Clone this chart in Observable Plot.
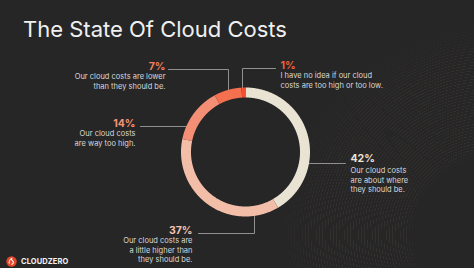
<!DOCTYPE html>
<html>
<head>
<meta charset="utf-8">
<script src="https://cdn.jsdelivr.net/npm/d3@7"></script>
<script src="https://cdn.jsdelivr.net/npm/@observablehq/plot@0.6"></script>
<style>
  html, body { margin: 0; padding: 0; background: #262626; }
  #wrap { position: relative; width: 474px; height: 268px; background: #262626; overflow: hidden; font-family: Inter, "Noto Sans", sans-serif; }
  #bgarcs { position: absolute; left: 0; top: 0; width: 474px; height: 268px;
    background: repeating-radial-gradient(circle at 490px 235px, rgba(0,0,0,0) 0px, rgba(0,0,0,0) 2.2px, rgba(230,170,150,0.07) 2.2px, rgba(230,170,150,0.07) 2.8px);
    -webkit-mask-image: radial-gradient(circle at 490px 235px, rgba(0,0,0,0) 75px, rgba(0,0,0,1) 85px, rgba(0,0,0,1) 170px, rgba(0,0,0,0) 215px);
    mask-image: radial-gradient(circle at 490px 235px, rgba(0,0,0,0) 75px, rgba(0,0,0,1) 85px, rgba(0,0,0,1) 170px, rgba(0,0,0,0) 215px); }
  #title { position: absolute; left: 23px; top: 18px; font-size: 22px; line-height: 22px; color: #f0f0f0; font-weight: 400; white-space: nowrap; }
  #logo { position: absolute; left: 6px; top: 256px; display: flex; align-items: center; gap: 4px; }
  #logo span { font-size: 7.5px; font-weight: 700; color: #f2f2f2; letter-spacing: 0.1px; }
  #chart { position: absolute; left: 0; top: 0; }
</style>
</head>
<body>
<div id="wrap">
  <div id="bgarcs"></div>
  <div id="chart"></div>
  <div id="title">The State Of Cloud Costs</div>
  <div id="logo">
    <svg width="11" height="11" viewBox="0 0 11 11"><circle cx="5.5" cy="5.5" r="5.2" fill="#e5452b"/><path d="M3.4 7.6 C2.6 5.6 4 3.4 5.6 2.6 C5.2 4 6.6 4.4 7.2 5.6 C7.8 7 6.6 8.4 5.4 8.4" fill="none" stroke="#ffffff" stroke-width="1.1"/></svg>
    <span>CLOUDZERO</span>
  </div>
</div>
<script>
// ---- data, clockwise from 12 o'clock ----
const categories = [
  "Our cloud costs are about where they should be.",
  "Our cloud costs are a little higher than they should be.",
  "Our cloud costs are way too high.",
  "Our cloud costs are lower than they should be.",
  "I have no idea if our cloud costs are too high or too low."
];
const shares = [42, 37, 14, 7, 1];
const percentLabels = ["42%", "37%", "14%", "7%", "1%"];
const labelLines = [
  ["Our cloud costs", "are about where", "they should be."],
  ["Our cloud costs are", "a little higher than", "they should be."],
  ["Our cloud costs", "are way too high."],
  ["Our cloud costs are lower", "than they should be."],
  ["I have no idea if our cloud", "costs are too high or too low."]
];

// ---- styles ----
const sliceColors = ["#e9e3d3", "#f3bea8", "#f48f76", "#f5704f", "#f2502e"];
const percentColors = ["#ece5d6", "#f4c4b0", "#f39479", "#f0805f", "#f0603e"];

// ---- layout (pixels relative to the donut centre) ----
const W = 474, H = 268, CX = 245, CY = 151.5;
const R_MID = 59.5, RING = 10;
const leaderLayout = [
  {kind: "h", side: 1,  ly: 11.5,  lx: 100,  tx: 105,  anchor: "start"},
  {kind: "v", side: 1,  ax: 9,     ly: 81.5, lx: -47,  tx: -53, anchor: "end"},
  {kind: "h", side: -1, ly: -25.5, lx: -105, tx: -110, anchor: "end"},
  {kind: "v", side: -1, ax: -17,   ly: -82.5, lx: -77, tx: -80, anchor: "end"},
  {kind: "v", side: -1, ax: -3,    ly: -83.5, lx: 30,  tx: 35,  anchor: "start"}
];
const LINE_STEP = 9.5;

// ring geometry derived from the shares
const arcs = d3.pie().sort(null).value(d => d)(shares);
const ringPts = [];
arcs.forEach((a, i) => {
  const n = Math.max(2, Math.ceil((a.endAngle - a.startAngle) / (Math.PI / 360)));
  for (let j = 0; j <= n; j++) {
    const t = a.startAngle + (a.endAngle - a.startAngle) * j / n;
    ringPts.push({k: i, x: R_MID * Math.sin(t), y: -R_MID * Math.cos(t)});
  }
});

// leader polylines
const leaderPts = [];
leaderLayout.forEach((L, i) => {
  if (L.kind === "h") {
    const x0 = L.side * Math.sqrt(R_MID * R_MID - L.ly * L.ly);
    leaderPts.push({k: i, x: x0, y: L.ly}, {k: i, x: L.lx, y: L.ly});
  } else {
    const y0 = Math.sign(L.ly) * Math.sqrt(R_MID * R_MID - L.ax * L.ax);
    leaderPts.push({k: i, x: L.ax, y: y0}, {k: i, x: L.ax, y: L.ly}, {k: i, x: L.lx, y: L.ly});
  }
});

const pctRows = shares.map((s, i) => ({k: i, label: percentLabels[i], x: leaderLayout[i].tx, y: leaderLayout[i].ly - (i === 0 ? 1.5 : 0), anchor: leaderLayout[i].anchor}));
const bodyRows = [];
labelLines.forEach((lines, i) => lines.forEach((t, j) => bodyRows.push({k: i, text: t, x: leaderLayout[i].tx, y: leaderLayout[i].ly + LINE_STEP * (j + 1), anchor: leaderLayout[i].anchor})));

const chart = Plot.plot({
  width: W, height: H, margin: 0,
  style: {background: "transparent", fontFamily: "Inter, 'Noto Sans', sans-serif", overflow: "visible"},
  x: {domain: [-CX, W - CX], range: [0, W], axis: null},
  y: {domain: [-CY, H - CY], range: [0, H], axis: null},
  color: {type: "identity"},
  marks: [
    Plot.line(leaderPts, {x: "x", y: "y", z: "k", stroke: "#9c9c9c", strokeWidth: 0.9}),
    Plot.line(ringPts, {x: "x", y: "y", z: "k", stroke: d => sliceColors[d.k], strokeWidth: RING, strokeLinecap: "butt", strokeLinejoin: "round"}),
    Plot.text(pctRows.filter(d => d.anchor === "start"), {x: "x", y: "y", text: "label", fill: d => percentColors[d.k], textAnchor: "start", lineAnchor: "bottom", fontSize: 10.5, fontWeight: 700}),
    Plot.text(pctRows.filter(d => d.anchor === "end"), {x: "x", y: "y", text: "label", fill: d => percentColors[d.k], textAnchor: "end", lineAnchor: "bottom", fontSize: 10.5, fontWeight: 700}),
    Plot.text(bodyRows.filter(d => d.anchor === "start"), {x: "x", y: "y", text: "text", fill: "#d9d9d9", textAnchor: "start", lineAnchor: "bottom", fontSize: 7.5}),
    Plot.text(bodyRows.filter(d => d.anchor === "end"), {x: "x", y: "y", text: "text", fill: "#d9d9d9", textAnchor: "end", lineAnchor: "bottom", fontSize: 7.5})
  ]
});
document.getElementById("chart").appendChild(chart);
</script>
</body>
</html>
